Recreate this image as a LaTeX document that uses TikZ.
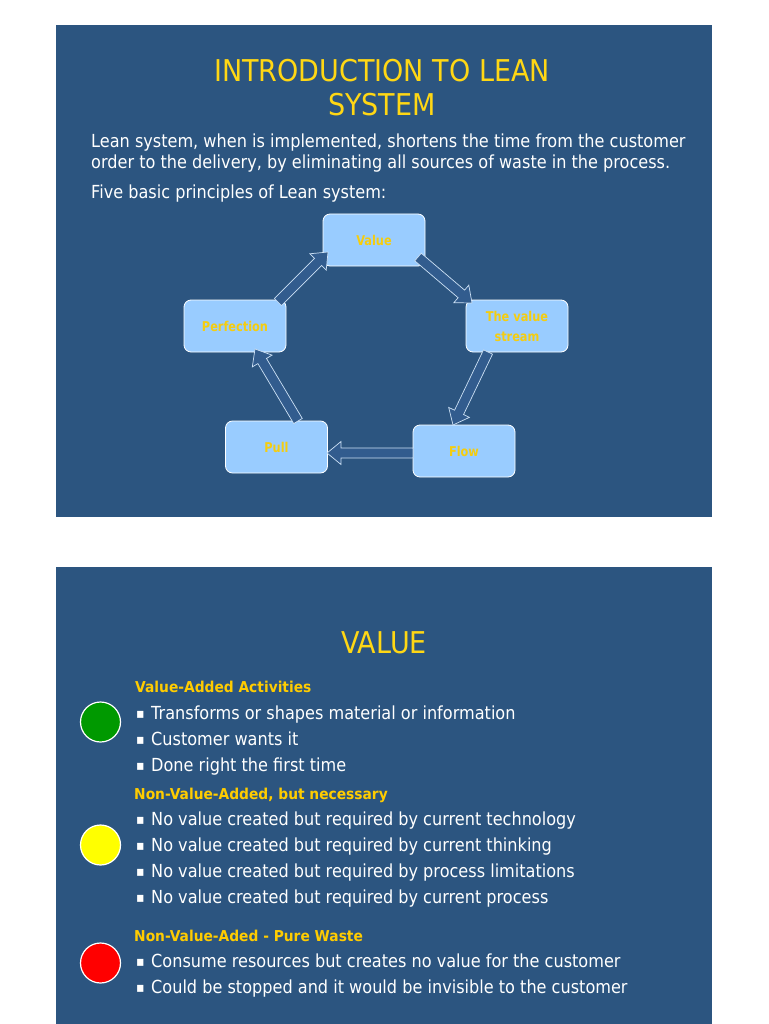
\documentclass[tikz,border=0pt]{standalone}
\usepackage{fontspec}
\setmainfont{DejaVu Sans}
\newfontfamily\titlefnt{DejaVu Sans}[FakeStretch=0.9]
\newfontfamily\bodyfnt{DejaVu Sans}[FakeStretch=0.895]
\newfontfamily\headfnt{DejaVu Sans}[FakeStretch=0.92]
\newfontfamily\boxfnt{DejaVu Sans}[FakeStretch=0.84]
\usetikzlibrary{calc}
\definecolor{slidebg}{RGB}{44,85,128}
\definecolor{boxblue}{RGB}{153,204,255}
\definecolor{boxtext}{RGB}{245,205,15}
\definecolor{titleyel}{RGB}{255,215,20}
\definecolor{headyel}{RGB}{255,204,0}
\definecolor{arrfill}{RGB}{50,92,142}
\definecolor{arredge}{RGB}{205,225,245}
\tikzset{
  slide/.style={fill=slidebg, draw=none},
  titletext/.style={text=titleyel, font=\titlefnt\fontsize{30}{34}\selectfont, align=center, inner sep=0pt},
  bodytext/.style={text=white, font=\bodyfnt\fontsize{18}{21}\selectfont, anchor=west, inner sep=0pt, text height=13pt, text depth=4pt},
  headtext/.style={text=headyel, font=\headfnt\bfseries\fontsize{15}{18}\selectfont, anchor=west, inner sep=0pt, text height=11pt, text depth=3pt},
  pbox/.style={draw=white, line width=0.8pt, fill=boxblue, rounded corners=7pt, minimum width=102pt, minimum height=52pt, align=center, text=boxtext, font=\boxfnt\bfseries\fontsize{13.5}{20}\selectfont, inner sep=0pt},
  blockarr/.style={fill=arrfill, draw=arredge, line width=0.7pt, line join=miter},
  light/.style={circle, minimum size=40pt, draw=white, line width=1.2pt, inner sep=0pt}
}
\newcommand\blkarrow[2]{%
  \coordinate (bh) at ($(#2)!14pt!(#1)$);
  \filldraw[blockarr] ($(#1)!5pt!90:(#2)$) -- ($(bh)!5pt!90:(#2)$) -- ($(bh)!11.5pt!90:(#2)$) -- (#2)
     -- ($(bh)!11.5pt!-90:(#2)$) -- ($(bh)!5pt!-90:(#2)$) -- ($(#1)!5pt!-90:(#2)$) -- cycle;}
\newcommand\bul{\makebox[15pt][l]{\raisebox{1pt}{\fontsize{14}{14}\selectfont ▪}}}
\begin{document}
\begin{tikzpicture}[x=1pt,y=-1pt]
\useasboundingbox (0,0) rectangle (768,1024);
\fill[white] (0,0) rectangle (768,1024);
% ---------- slide 1 ----------
\fill[slide] (56,25) rectangle (712,517);
\node[titletext] (t1) at (382,88) {INTRODUCTION TO LEAN\\SYSTEM};
\node[bodytext] (p1) at (91,143) {Lean system, when is implemented, shortens the time from the customer};
\node[bodytext] (p2) at (91,164) {order to the delivery, by eliminating all sources of waste in the process.};
\node[bodytext] (p3) at (91,194) {Five basic principles of Lean system:};

\coordinate (a1s) at (418,257); \coordinate (a1e) at (472,303);
\coordinate (a2s) at (488,352); \coordinate (a2e) at (453,425);
\coordinate (a3s) at (413,453); \coordinate (a3e) at (327,453);
\coordinate (a4s) at (298,421); \coordinate (a4e) at (255,349);
\coordinate (a5s) at (278,302); \coordinate (a5e) at (328,252);

\node[pbox] (value) at (374,240) {Value};
\node[pbox] (stream) at (517,326) {The value\\stream};
\node[pbox] (perf) at (235,326) {Perfection};
\node[pbox] (pull) at (276.5,447) {Pull};
\node[pbox] (flow) at (464,451) {Flow};

\blkarrow{a1s}{a1e}
\blkarrow{a2s}{a2e}
\blkarrow{a3s}{a3e}
\blkarrow{a4s}{a4e}
\blkarrow{a5s}{a5e}

% ---------- slide 2 ----------
\fill[slide] (56,567) rectangle (712,1024);
\node[titletext] (t2) at (384,643) {VALUE};

\node[light, fill={rgb,255:red,0;green,153;blue,0}] (green) at (100.5,722) {};
\node[light, fill={rgb,255:red,255;green,255;blue,0}] (yellow) at (100.5,845) {};
\node[light, fill={rgb,255:red,255;green,0;blue,0}] (red) at (100.5,963) {};

\node[headtext] (h1) at (135,688) {Value-Added Activities};
\node[bodytext] (b1) at (136,715) {\bul Transforms or shapes material or information};
\node[bodytext] (b2) at (136,741) {\bul Customer wants it};
\node[bodytext] (b3) at (136,767) {\bul Done right the first time};

\node[headtext] (h2) at (134,795) {Non-Value-Added, but necessary};
\node[bodytext] (b4) at (136,821) {\bul No value created but required by current technology};
\node[bodytext] (b5) at (136,847) {\bul No value created but required by current thinking};
\node[bodytext] (b6) at (136,873) {\bul No value created but required by process limitations};
\node[bodytext] (b7) at (136,899) {\bul No value created but required by current process};

\node[headtext] (h3) at (134,937) {Non-Value-Aded - Pure Waste};
\node[bodytext] (b8) at (136,963) {\bul Consume resources but creates no value for the customer};
\node[bodytext] (b9) at (136,989) {\bul Could be stopped and it would be invisible to the customer};
\end{tikzpicture}
\end{document}
